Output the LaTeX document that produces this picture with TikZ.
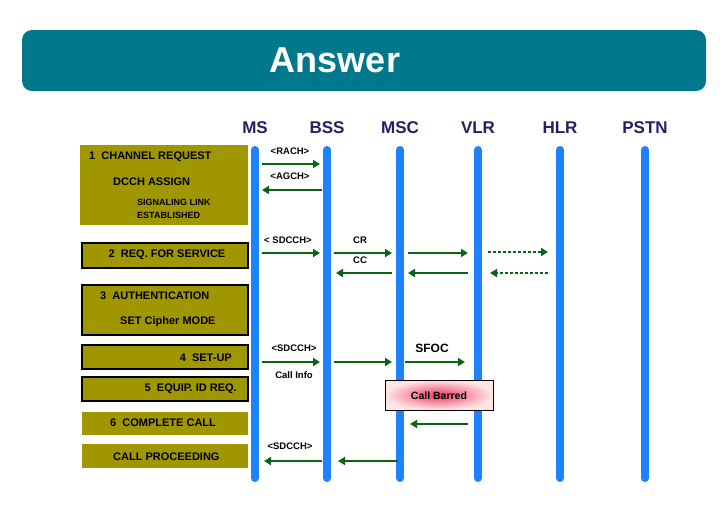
\documentclass[tikz,border=0pt]{standalone}
\usepackage{fontspec}
\setmainfont{Liberation Sans}
\usetikzlibrary{arrows.meta}
\definecolor{teal1}{RGB}{0,120,140}
\definecolor{life}{RGB}{30,130,255}
\definecolor{hdr}{RGB}{40,30,100}
\definecolor{olive1}{RGB}{160,150,0}
\definecolor{grn}{RGB}{10,100,20}
\definecolor{pinkc}{RGB}{235,60,100}
\begin{document}
\begin{tikzpicture}[x=1pt,y=-1pt,font=\bfseries,
 life/.style={line width=8pt,color=life,line cap=round},
 hd/.style={font=\fontsize{17}{17}\selectfont\bfseries,text=hdr},
 box/.style={fill=olive1,draw=black,line width=1.5pt,inner sep=0pt},
 boxn/.style={fill=olive1,inner sep=0pt},
 bt/.style={font=\fontsize{11}{12}\selectfont\bfseries,inner sep=0pt},
 lbl/.style={font=\fontsize{9.5}{10}\selectfont\bfseries,inner sep=0pt},
 msg/.style={grn,line width=2.5pt,-{Triangle[length=7pt,width=8pt]}},
 dmsg/.style={msg,dash pattern=on 3pt off 2pt}]
\useasboundingbox (0,0) rectangle (728,514);
\fill[white] (0,0) rectangle (728,514);
\fill[teal1,rounded corners=10pt] (22,30) rectangle (706,91);
\node[white,font=\fontsize{36}{36}\selectfont\bfseries] (title) at (335,60) {Answer};
% headers and lifelines
\foreach \n/\x/\t in {ms/255/MS,bss/327/BSS,msc/400/MSC,vlr/478/VLR,hlr/560/HLR,pstn/645/PSTN}{
 \node[hd] (h\n) at (\x,128) {\t};
 \coordinate (\n t) at (\x,150); \coordinate (\n b) at (\x,478);
 \draw[life] (\n t) -- (\n b);
}
% left boxes
\fill[olive1] (80,145) rectangle (248,225);
\node[bt,anchor=west] (b1a) at (89,157) {1\ \ CHANNEL REQUEST};
\node[bt,anchor=west] (b1b) at (113,182) {DCCH ASSIGN};
\node[lbl,anchor=west,align=left,font=\fontsize{9}{13}\selectfont\bfseries] (b1c) at (137,209) {SIGNALING LINK\\ESTABLISHED};
\draw[box] (82,243) rectangle (248,268);
\node[bt] (b2) at (167,255) {2\ \ REQ. FOR SERVICE};
\draw[box] (82,285) rectangle (248,335);
\node[bt,anchor=west] (b3a) at (100,296) {3\ \ AUTHENTICATION};
\node[bt,anchor=west] (b3b) at (120,322) {SET Cipher MODE};
\draw[box] (82,345) rectangle (248,369);
\node[bt,anchor=east] (b4) at (232,358) {4\ \ SET-UP};
\draw[box] (82,377) rectangle (248,401);
\node[bt,anchor=east] (b5) at (237,389) {5\ \ EQUIP. ID REQ.};
\fill[olive1] (82,412) rectangle (248,435);
\node[bt,anchor=west] (b6) at (110,423) {6\ \ COMPLETE CALL};
\fill[olive1] (82,444) rectangle (248,468);
\node[bt,anchor=west] (b7) at (113,457) {CALL PROCEEDING};
% coordinates for messages
\foreach \n/\x in {a/262,b/320,c/322,d/334,e/336,f/392,g/408,h/468,i/488,j/548}{
 \coordinate (p\n) at (\x,0);}
% step 1
\coordinate (r1) at (262,164); \coordinate (r2) at (320,164);
\draw[msg] (r1) -- (r2); \node[lbl] (l1) at (290,151) {<RACH>};
\coordinate (a1) at (322,190); \coordinate (a2) at (262,190);
\draw[msg] (a1) -- (a2); \node[lbl] (l2) at (290,176) {<AGCH>};
% step 2
\coordinate (s1) at (262,253); \coordinate (s2) at (320,253);
\draw[msg] (s1) -- (s2); \node[lbl] (l3) at (288,240) {< SDCCH>};
\coordinate (c1) at (334,253); \coordinate (c2) at (392,253);
\draw[msg] (c1) -- (c2); \node[lbl] (l4) at (360,240) {CR};
\coordinate (c3) at (392,273); \coordinate (c4) at (336,273);
\draw[msg] (c3) -- (c4); \node[lbl] (l5) at (360,260) {CC};
\coordinate (v1) at (408,253); \coordinate (v2) at (468,253);
\draw[msg] (v1) -- (v2);
\coordinate (v3) at (468,273); \coordinate (v4) at (408,273);
\draw[msg] (v3) -- (v4);
\coordinate (d1) at (488,252); \coordinate (d2) at (548,252);
\draw[dmsg] (d1) -- (d2);
\coordinate (d3) at (548,273); \coordinate (d4) at (490,273);
\draw[dmsg] (d3) -- (d4);
% step 4
\coordinate (u1) at (262,362); \coordinate (u2) at (320,362);
\draw[msg] (u1) -- (u2); \node[lbl] (l6) at (294,348) {<SDCCH>};
\node[lbl] (l7) at (294,375) {Call Info};
\coordinate (u3) at (334,362); \coordinate (u4) at (392,362);
\draw[msg] (u3) -- (u4);
\coordinate (u5) at (405,362); \coordinate (u6) at (465,362);
\draw[msg] (u5) -- (u6); \node[lbl,font=\fontsize{12}{12}\selectfont\bfseries] (l8) at (432,348) {SFOC};
% call barred
\shade[inner color=pinkc,outer color=pink!40] (385,380) rectangle (493,410);
\draw[black,line width=1pt] (385,380) rectangle (493,410);
\node[lbl,font=\fontsize{10.5}{11}\selectfont\bfseries] (cb) at (439,396) {Call Barred};
% step 6
\coordinate (w1) at (468,424); \coordinate (w2) at (410,424);
\draw[msg] (w1) -- (w2);
\coordinate (w3) at (398,461); \coordinate (w4) at (338,461);
\draw[msg] (w3) -- (w4);
\coordinate (w5) at (322,461); \coordinate (w6) at (264,461);
\draw[msg] (w5) -- (w6); \node[lbl] (l9) at (290,446) {<SDCCH>};
\end{tikzpicture}
\end{document}
